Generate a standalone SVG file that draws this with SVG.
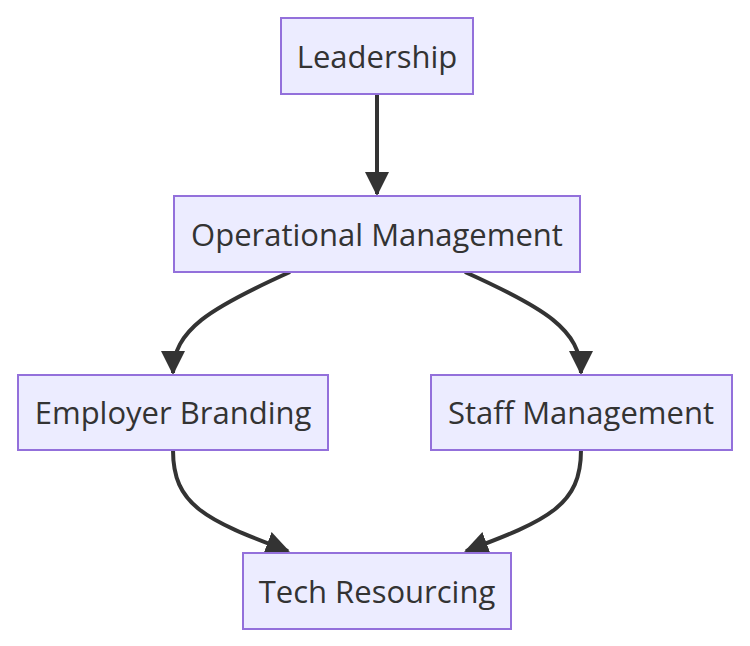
<svg xmlns="http://www.w3.org/2000/svg" width="750" height="646" viewBox="0 0 750 646">
<style>
.n rect{fill:#ECECFF;stroke:#9370DB;stroke-width:2}
.n text{font-family:"Open Sans","Noto Sans",sans-serif;font-size:31px;fill:#333;text-anchor:middle;dominant-baseline:central}
.e path{fill:none;stroke:#333;stroke-width:4}
</style>
<defs>
<marker id="m" viewBox="0 0 24 24" refX="22" refY="12" markerWidth="24" markerHeight="24" markerUnits="userSpaceOnUse" orient="auto">
<path d="M0,0 L24,12 L0,24 z" fill="#333"/>
</marker>
</defs>
<rect width="750" height="646" fill="#fff"/>
<g class="e">
<path d="M377,94 L377,194" marker-end="url(#m)"/>
<path d="M290,272 C210,308 173,330 173,373" marker-end="url(#m)"/>
<path d="M465,272 C545,308 581,330 581,373" marker-end="url(#m)"/>
<path d="M173,450 C173,505 205,520 288,551" marker-end="url(#m)"/>
<path d="M581,450 C581,505 549,520 466,551" marker-end="url(#m)"/>
</g>
<g id="leadership" class="n"><rect x="281" y="18" width="192" height="76"/><text x="377" y="56">Leadership</text></g>
<g id="opmgmt" class="n"><rect x="174" y="196" width="406" height="76"/><text x="377" y="234">Operational Management</text></g>
<g id="employer" class="n"><rect x="18" y="375" width="310" height="75"/><text x="173" y="412">Employer Branding</text></g>
<g id="staff" class="n"><rect x="431" y="375" width="301" height="75"/><text x="581" y="412">Staff Management</text></g>
<g id="tech" class="n"><rect x="243" y="553" width="268" height="76"/><text x="377" y="591">Tech Resourcing</text></g>
</svg>
